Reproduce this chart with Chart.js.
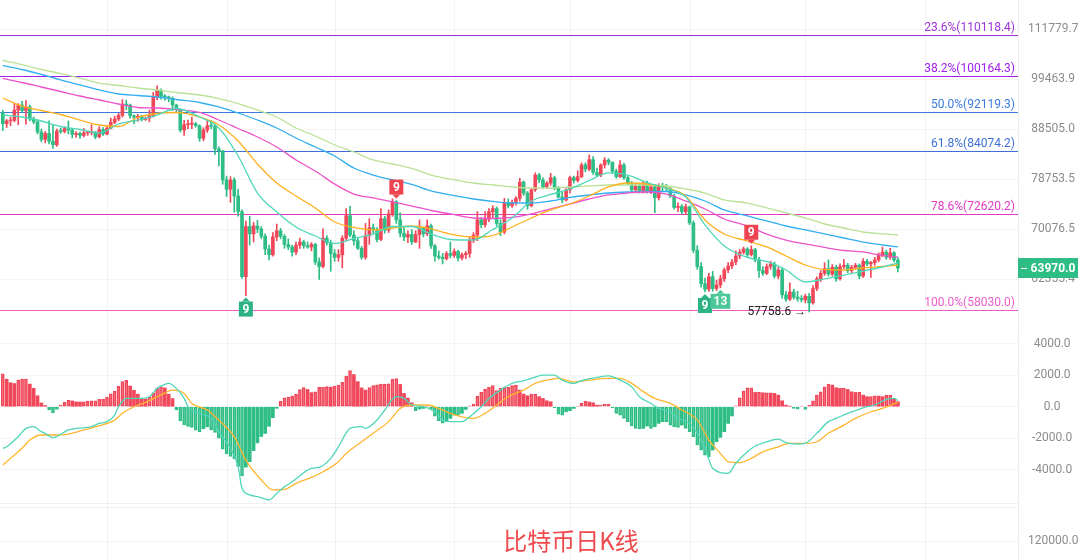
<!DOCTYPE html>
<html>
<head>
<meta charset="utf-8">
<title>比特币日K线</title>
<script src="https://cdn.jsdelivr.net/npm/chart.js@4.4.1/dist/chart.umd.min.js"></script>
<style>
  html, body { margin: 0; padding: 0; background: #fff; }
  #wrap { width: 1078px; height: 560px; position: relative; }
</style>
</head>
<body>
<div id="wrap"><canvas id="klineChart"></canvas></div>
<script>
// Daily candles, one row per day: [open, high, low, close]
const candles = [
  [92000, 92500, 88200, 89600], [89600, 90500, 88800, 90200], [90200, 91000, 89200, 90300], [90300, 94000, 90000, 92500],
  [92500, 93900, 89400, 93600], [93600, 94400, 92000, 92400], [92400, 94600, 89500, 93200], [93200, 93600, 90200, 90600],
  [90600, 91000, 89600, 90000], [90000, 90400, 87500, 87900], [87900, 88500, 85900, 86400], [86400, 88000, 85700, 87600],
  [87600, 90200, 85500, 86000], [86000, 89300, 84600, 85300], [85300, 88500, 85000, 88100], [88100, 88700, 87600, 88000],
  [88000, 89000, 87700, 88600], [88600, 90200, 87500, 88300], [88300, 88600, 86700, 87400], [87400, 88000, 86800, 87600],
  [87600, 87900, 86600, 87200], [87200, 88600, 86900, 87700], [87700, 88000, 87200, 87800], [87800, 89400, 87300, 87900],
  [87900, 88000, 86500, 86900], [86900, 89000, 86700, 88400], [88400, 88800, 87200, 87500], [87500, 88900, 87300, 88700],
  [88700, 90800, 88500, 89900], [89900, 91200, 89600, 90600], [90600, 91800, 90200, 91400], [91400, 94800, 91000, 93800],
  [93800, 94700, 92600, 93600], [93600, 93800, 90800, 91300], [91300, 91500, 89600, 91000], [91000, 91600, 90100, 91200],
  [91200, 91400, 90200, 90500], [90500, 91000, 90300, 90800], [90800, 92500, 90000, 91300], [91300, 96400, 91000, 95400],
  [95400, 97900, 94800, 96900], [96900, 97200, 94900, 95500], [95500, 95900, 94600, 95400], [95400, 95600, 94300, 95100],
  [95100, 95400, 92400, 93600], [93600, 93800, 92000, 92600], [92600, 92800, 87900, 88300], [88300, 90300, 87200, 89400],
  [89400, 90400, 88600, 89500], [89500, 91000, 88600, 89600], [89600, 89900, 88900, 89200], [89200, 89400, 86000, 86600],
  [86600, 88800, 86100, 88300], [88300, 90500, 87800, 89200], [89200, 90300, 88600, 89100], [89100, 89400, 83400, 84500],
  [84500, 84900, 81200, 84100], [84100, 84200, 77800, 78600], [78600, 79300, 75600, 76900], [76900, 79200, 74600, 78600],
  [78600, 79000, 72900, 75700], [75700, 76900, 72200, 73000], [73000, 73300, 62500, 62700], [62700, 71400, 60000, 70500],
  [70500, 72200, 67500, 69300], [69300, 71200, 68000, 70600], [70600, 71500, 69500, 70100], [70100, 70500, 68500, 68900],
  [68900, 69300, 66000, 66900], [66900, 67500, 65200, 66000], [66000, 69500, 65800, 68800], [68800, 70900, 68200, 69800],
  [69800, 70200, 68500, 68900], [68900, 69200, 67000, 67600], [67600, 68500, 66800, 67200], [67200, 67500, 65800, 66400],
  [66400, 68000, 66000, 67500], [67500, 68600, 67000, 68000], [68000, 68300, 67000, 67400], [67400, 68000, 67000, 67200],
  [67200, 67900, 66600, 67600], [67600, 67800, 64500, 64900], [64900, 65500, 62300, 64200], [64200, 70100, 64000, 68600],
  [68600, 69000, 67500, 67900], [67900, 68300, 63500, 66200], [66200, 66800, 65000, 65600], [65600, 66800, 65000, 66000],
  [66000, 69000, 64000, 68600], [68600, 73500, 68200, 72300], [72300, 73900, 68800, 69100], [69100, 69800, 67500, 68200],
  [68200, 68600, 66800, 67000], [67000, 67300, 65300, 65600], [65600, 71000, 65300, 69000], [69000, 71800, 67600, 70300],
  [70300, 70900, 69400, 70000], [70000, 70300, 68000, 68400], [68400, 73500, 68200, 71800], [71800, 72200, 69400, 69900],
  [69900, 73300, 69500, 72600], [72600, 75200, 72200, 74700], [74700, 74900, 71000, 71600], [71600, 72800, 68800, 69400],
  [69400, 70400, 68200, 68800], [68800, 69800, 67900, 69200], [69200, 70000, 67600, 68000], [68000, 69800, 67900, 69200],
  [69200, 71600, 67000, 70200], [70200, 70400, 68800, 69300], [69300, 71600, 69000, 70600], [70600, 70900, 67000, 67400],
  [67400, 67600, 65000, 65800], [65800, 66600, 65300, 65600], [65600, 66200, 64600, 65400], [65400, 66500, 65200, 66200],
  [66200, 68000, 65500, 65900], [65900, 66900, 65600, 66500], [66500, 66700, 65000, 65500], [65500, 66300, 65200, 66000],
  [66000, 66500, 65400, 66200], [66200, 68800, 65600, 68300], [68300, 69500, 67900, 69100], [69100, 73000, 68200, 71600],
  [71600, 72000, 70300, 70800], [70800, 73000, 70400, 71700], [71700, 73500, 71300, 73000], [73000, 74000, 71900, 73500],
  [73500, 73800, 70600, 71000], [71000, 71600, 69000, 69600], [69600, 75300, 69300, 74500], [74500, 75200, 73600, 74000],
  [74000, 75000, 73700, 74600], [74600, 75600, 74100, 75300], [75300, 78900, 74800, 78200], [78200, 78400, 75800, 76200],
  [76200, 76500, 73400, 74000], [74000, 77000, 73800, 76800], [76800, 79900, 76500, 79500], [79500, 79800, 78100, 78600],
  [78600, 79000, 77000, 77300], [77300, 78300, 77000, 78000], [78000, 79800, 77600, 79000], [79000, 79300, 76800, 77100],
  [77100, 77400, 75300, 75500], [75500, 76400, 74500, 75000], [75000, 77000, 74800, 76800], [76800, 79300, 76200, 79000],
  [79000, 79300, 78000, 78500], [78500, 80300, 78200, 79200], [79200, 81800, 79000, 81400], [81400, 81800, 80100, 80600],
  [80600, 83300, 80300, 82400], [82400, 83000, 79600, 80000], [80000, 80800, 79200, 79500], [79500, 81600, 79200, 81400],
  [81400, 82800, 80800, 82300], [82300, 82600, 81400, 81900], [81900, 82000, 79800, 80200], [80200, 80600, 78900, 79200],
  [79200, 82200, 79000, 81400], [81400, 81700, 78700, 79000], [79000, 79400, 77700, 78000], [78000, 78300, 76500, 76800],
  [76800, 77800, 76300, 77500], [77500, 77800, 76200, 76500], [76500, 78300, 76200, 78000], [78000, 78400, 76200, 76500],
  [76500, 77600, 76100, 77300], [77300, 77800, 72800, 75400], [75400, 77900, 75000, 77500], [77500, 78000, 76600, 77300],
  [77300, 77800, 76500, 77000], [77000, 77300, 75400, 75700], [75700, 76000, 73400, 73700], [73700, 74500, 73000, 73900],
  [73900, 74200, 72600, 73000], [73000, 74300, 72500, 73800], [73800, 74000, 70800, 71100], [71100, 71400, 66300, 66700],
  [66700, 67400, 63800, 64200], [64200, 64800, 61200, 61700], [61700, 62500, 60500, 60900], [60900, 63200, 60600, 62700],
  [62700, 63500, 60600, 61000], [61000, 62200, 60700, 61500], [61500, 62900, 61100, 62400], [62400, 64000, 62000, 63700],
  [63700, 64800, 63300, 64300], [64300, 65300, 63900, 64900], [64900, 66600, 64500, 65800], [65800, 66800, 65400, 66400],
  [66400, 67200, 66100, 66900], [66900, 67100, 65600, 66000], [66000, 67400, 65800, 66800], [66800, 67000, 64900, 65200],
  [65200, 65600, 62600, 63600], [63600, 64200, 62900, 63200], [63200, 64600, 63000, 64200], [64200, 65000, 63800, 64600],
  [64600, 64900, 62500, 62800], [62800, 64100, 62400, 63700], [63700, 64000, 59600, 60100], [60100, 60600, 59200, 59500],
  [59500, 61800, 59300, 60500], [60500, 60900, 59500, 59800], [59800, 60600, 59200, 59600], [59600, 60000, 59100, 59400],
  [59400, 60200, 59000, 59900], [59900, 60300, 57758.6, 59000], [59000, 61400, 58800, 61000], [61000, 62700, 60700, 62400],
  [62400, 63600, 62000, 63200], [63200, 64800, 62900, 63900], [63900, 65200, 62800, 63100], [63100, 64500, 62800, 64100],
  [64100, 64400, 62000, 62400], [62400, 64600, 62200, 64200], [64200, 65300, 63900, 64400], [64400, 64700, 63300, 63600],
  [63600, 64400, 63300, 64100], [64100, 64700, 63800, 64400], [64400, 64600, 62400, 62800], [62800, 65400, 62600, 65000],
  [65000, 65300, 64300, 64600], [64600, 65000, 62600, 64800], [64800, 65600, 64400, 65200], [65200, 66300, 64900, 66000],
  [66000, 67200, 65700, 66400], [66400, 66700, 65300, 65600], [65600, 67000, 65300, 66300], [66300, 66500, 64900, 65200],
  [65200, 65600, 63400, 63970]
];

// Moving averages, read at these candle indices
const maIdx = [0, 5, 10, 15, 20, 25, 30, 35, 40, 45, 51, 56, 61, 66, 71, 76, 81, 86, 91, 96, 101, 106, 111, 116,
  122, 127, 132, 137, 142, 147, 152, 157, 162, 167, 172, 177, 182, 187, 193, 198, 203, 208, 213, 218, 223, 228, 232];
const maTeal = [91450, 91030, 90180, 89030, 88410, 87690, 89550, 90390, 91450, 92850, 91030, 88720, 83110, 76230, 72930, 70420,
  68950, 67760, 68550, 69270, 70500, 70500, 69280, 68390, 68310, 70010, 71910, 74820, 75970, 76950, 78490, 79880, 79500, 78120,
  77040, 75520, 70750, 67360, 65580, 64970, 63690, 61940, 62370, 62950, 63540, 64140, 64740];
const maOrange = [95150, 93390, 92420, 91560, 90390, 89340, 89030, 90920, 91770, 91990, 91030, 89340, 86070, 81570, 78030, 75700,
  73610, 71240, 70340, 69930, 70250, 70580, 70090, 69270, 68790, 69030, 70420, 71910, 73270, 74300, 75700, 77310, 78030, 77850,
  77130, 75700, 71580, 69280, 68150, 67210, 65810, 64440, 63770, 63690, 63990, 64220, 64440];
const maPink = [99590, 98660, 97630, 96610, 95600, 94710, 93830, 93070, 92960, 92630, 91990, 90390, 88620, 86880, 84870, 82340,
  80250, 77850, 76050, 75350, 74650, 73950, 73180, 72590, 71910, 71830, 72000, 72590, 73440, 74300, 75170, 75880, 76230, 76410,
  76050, 74820, 73440, 71740, 70580, 69270, 68310, 67680, 67130, 66660, 66430, 65890, 65650];
const maBlue = [102650, 101700, 100520, 99240, 98090, 96950, 96050, 95710, 95380, 94820, 94160, 93180, 91880, 90390, 88720, 86670,
  84870, 83110, 80810, 79500, 78580, 77760, 76590, 75880, 75170, 74740, 74470, 74470, 74820, 75440, 75880, 76230, 76410, 76500,
  76500, 75880, 74820, 73270, 72250, 71410, 70580, 69930, 69280, 68630, 67990, 67520, 67210];
const maGreen = [103860, 102890, 101700, 100750, 99700, 98540, 97970, 97400, 96950, 96380, 95820, 95040, 93940, 92530, 91030, 88720,
  87080, 85270, 83890, 82340, 81570, 80720, 79500, 78760, 78030, 77670, 77310, 77130, 77130, 77310, 77490, 77670, 77670, 77670,
  77490, 76950, 76230, 75000, 74470, 73610, 72760, 71910, 70910, 70250, 69600, 69280, 69115];

// MACD histogram, one bar per candle
const macdHist = [
  2100, 1750, 1530, 1480, 1700, 1760, 1760, 1440, 1170, 700, 240, 80, -200, -400, -150, 100, 280, 410, 370, 310,
  300, 310, 360, 370, 380, 470, 490, 620, 830, 1000, 1300, 1600, 1680, 1320, 1050, 800, 520, 490, 620, 880,
  1180, 1270, 1200, 800, 520, -200, -900, -1150, -1250, -1320, -1500, -1600, -1400, -1280, -1470, -1640, -2000, -2700, -3000, -3170,
  -3320, -3800, -4400, -3850, -3500, -2800, -2300, -1900, -1700, -1250, -700, -100, 350, 570, 610, 680, 800, 1100, 1220, 1100,
  900, 950, 1230, 1230, 1290, 1250, 1320, 1380, 1550, 1950, 2300, 2050, 1600, 1200, 1060, 1220, 1340, 1400, 1440, 1440,
  1460, 1750, 1800, 1420, 850, 550, 250, -250, -150, -110, 40, -150, -600, -880, -1050, -900,
  -740, -530, -530, -420, -170, 60, 170, 680, 910, 1120, 1230, 1340, 1020, 1170, 1230, 1230, 1340, 1380, 1060, 805,
  700, 805, 805, 640, 530, 380, 320, -60, -470, -530, -320, -250, -110, 40, 210, 360, 300,
  250, 100, 100, 170, 170, -60, -420, -530, -740, -950, -1230, -1380, -1420, -1380, -1230, -1380, -1270, -1060, -950, -950,
  -1170, -1270, -1310, -1170, -1380, -1590, -1910, -2440, -2760, -3080, -3180, -2760, -2230, -1950, -1590, -1060, -590, 60, 570, 1000,
  1210, 1210, 910, 910, 890, 890, 870, 850, 740, 380, 100, 40, -110, -150, 40, -170, 100,
  380, 740, 950, 1270, 1440, 1380, 1210, 1170, 1170, 1100, 950, 910, 910, 740, 640, 640, 700, 680, 640, 740, 740, 530, 320
];
const difIdx = [0, 1, 4, 6, 8, 10, 11, 13, 17, 19, 23, 25, 27, 29, 30, 32, 34, 36, 38, 40, 42, 43, 45, 47, 48, 51, 54, 56, 59, 61,
  62, 64, 66, 67, 69, 71, 73, 75, 80, 82, 85, 87, 90, 93, 94, 97, 99, 102, 104, 106, 109, 112, 114, 116, 119, 121, 124, 126, 129, 132,
  135, 137, 140, 143, 145, 148, 150, 154, 157, 160, 163, 165, 168, 170, 173, 175, 178, 180, 182, 184, 188, 190, 193, 195, 198, 201,
  203, 206, 208, 211, 214, 216, 219, 221, 224, 226, 229, 231, 232];
const difVals = [-2650, -2550, -1910, -1380, -1270, -1590, -1690, -1970, -1480, -1380, -1270, -1060, -950, -530, 0, 530, 530, 530,
  640, 1170, 1430, 1490, 1170, 530, 0, -420, -740, -1590, -2650, -3820, -5200, -5620, -5730, -5800, -5940, -5520, -5100, -4780,
  -3920, -3860, -3290, -2550, -1380, -1270, -1380, -850, -210, 640, 530, 110, 0, -320, -850, -950, -950, -640, 0, 530, 1060, 1490,
  1660, 1810, 2020, 2020, 1700, 1490, 1660, 1870, 1960, 1700, 1270, 640, 210, -110, -320, -740, -1060, -1690, -2650, -3920,
  -4240, -3600, -2870, -2500, -2230, -2060, -2290, -2380, -2330, -1690, -950, -740, -420, -250, 0, 110, 470, 530, 380];
const deaIdx = [0, 2, 5, 7, 10, 12, 17, 21, 25, 29, 31, 34, 37, 41, 44, 47, 49, 53, 56, 60, 63, 67, 70, 73, 76, 80, 83, 87, 89, 93,
  96, 100, 103, 106, 110, 113, 116, 119, 122, 125, 128, 131, 135, 138, 142, 144, 148, 152, 157, 160, 163, 166, 169, 173, 176, 180,
  183, 186, 188, 191, 194, 197, 201, 204, 208, 211, 214, 218, 221, 225, 228, 232];
const deaVals = [-3710, -3290, -2650, -2120, -1800, -1800, -1740, -1480, -1210, -850, -420, 0, 280, 750, 1060, 850, 210, -210,
  -850, -1910, -3400, -4670, -5300, -5270, -4880, -4500, -4140, -3500, -2970, -2230, -1690, -950, -110, 110, 110, -110, -420, -640,
  -740, -420, 110, 640, 1060, 1490, 1740, 1810, 1590, 1700, 1810, 1810, 1490, 960, 530, 210, -210, -850, -2120, -2970, -3500, -3560,
  -3290, -2870, -2550, -2330, -2330, -2230, -1690, -1170, -740, -320, -110, 280];

// Axes, levels and marks
const priceTicks = [111779.7, 99463.9, 88505.0, 78753.5, 70076.5, 62355.4];
const macdTicks = [4000, 2000, 0, -2000, -4000];
const volTicks = [120000];
const monthGrid = [27, 58, 86, 117, 147, 178, 208, 239];
const fibLevels = [110118.4, 100164.3, 92119.3, 84074.2, 72620.2, 58030.0];
const fibNames = ['23.6%', '38.2%', '50.0%', '61.8%', '78.6%', '100.0%'];
const tdMarks = [
  { i: 63, text: '9', side: 'low' },
  { i: 102, text: '9', side: 'high' },
  { i: 182, text: '9', side: 'low' },
  { i: 186, text: '13', side: 'low' },
  { i: 194, text: '9', side: 'high' }
];
const lowMarkIdx = 209;

const UP = '#F0485A', DOWN = '#2EBD85';
const fibColors = ['#9B33D8', '#A020EE', '#3D7BE0', '#3F6FD6', '#E238C2', '#EE5CCB'];
const FONT = 'Roboto, "Noto Sans", sans-serif';

// histogram: solid when shrinking toward zero, pale when growing
const histStyle = macdHist.map((v, i) => {
  const prev = i ? macdHist[i - 1] : v;
  const grow = v >= 0 ? v >= prev : v <= prev;
  const base = v >= 0 ? UP : DOWN;
  return grow
    ? { fill: v >= 0 ? 'rgba(240,72,90,0.42)' : 'rgba(46,189,133,0.42)', line: base, w: 1 }
    : { fill: base, line: base, w: 0 };
});

function maSet(vals, color) {
  return {
    type: 'line', yAxisID: 'price', order: 0,
    data: maIdx.map((x, k) => ({ x, y: vals[k] })),
    borderColor: color, borderWidth: 1.3, pointRadius: 0,
    cubicInterpolationMode: 'monotone'
  };
}
function macdLine(idx, vals, color) {
  return {
    type: 'line', yAxisID: 'macd', order: 0,
    data: idx.map((x, k) => ({ x, y: vals[k] })),
    borderColor: color, borderWidth: 1.3, pointRadius: 0,
    cubicInterpolationMode: 'monotone'
  };
}
function rightAxis(extra, pad) {
  return Object.assign({
    position: 'right', stack: 'panes', offset: false,
    grid: { color: 'rgba(0,0,0,0.045)', drawTicks: false },
    border: { display: true, color: 'rgba(0,0,0,0.07)' },
    ticks: {
      color: '#8c8c8c', font: { family: FONT, size: 12 }, padding: pad,
      crossAlign: 'center', autoSkip: false, maxRotation: 0,
      callback: (v) => Number(v).toFixed(1)
    },
    // fixed axis width, no extra label padding so the panes fill the canvas
    afterFit: (s) => { s.width = 60; s.paddingTop = 0; s.paddingBottom = 0; }
  }, extra);
}

function drawTag(ctx, cx, tipY, text, color, above) {
  ctx.font = 'bold 12px ' + FONT;
  const w = Math.max(14, ctx.measureText(text).width + 6), h = 15, pt = 4;
  const top = above ? tipY - pt - h : tipY + pt;
  ctx.fillStyle = color;
  ctx.fillRect(cx - w / 2, top, w, h);
  ctx.beginPath();
  if (above) { ctx.moveTo(cx - 4, top + h); ctx.lineTo(cx + 4, top + h); }
  else { ctx.moveTo(cx - 4, top); ctx.lineTo(cx + 4, top); }
  ctx.lineTo(cx, tipY);
  ctx.closePath();
  ctx.fill();
  ctx.fillStyle = '#fff';
  ctx.textAlign = 'center';
  ctx.textBaseline = 'middle';
  ctx.fillText(text, cx, top + h / 2 + 0.5);
}

const overlay = {
  id: 'overlay',
  beforeDatasetsDraw(chart) {
    const { ctx, chartArea: a, scales } = chart;
    const xs = scales.x, ps = scales.price, ms = scales.macd;
    ctx.save();
    ctx.lineWidth = 1;
    ctx.strokeStyle = 'rgba(0,0,0,0.045)';
    monthGrid.forEach((i) => {
      const px = Math.round(xs.getPixelForValue(i)) + 0.5;
      if (px > a.right) return;
      ctx.beginPath(); ctx.moveTo(px, a.top); ctx.lineTo(px, a.bottom); ctx.stroke();
    });
    ctx.strokeStyle = 'rgba(0,0,0,0.06)';
    [ms.bottom - 2, ms.bottom + 2].forEach((y) => {
      ctx.beginPath(); ctx.moveTo(a.left, Math.round(y) + 0.5); ctx.lineTo(a.right, Math.round(y) + 0.5); ctx.stroke();
    });
    fibLevels.forEach((v, k) => {
      const py = Math.round(ps.getPixelForValue(v)) + 0.5;
      ctx.strokeStyle = fibColors[k];
      ctx.beginPath(); ctx.moveTo(a.left, py); ctx.lineTo(a.right, py); ctx.stroke();
    });
    ctx.restore();
  },
  afterDatasetsDraw(chart) {
    const { ctx, chartArea: a, scales } = chart;
    const xs = scales.x, ps = scales.price;
    ctx.save();
    ctx.font = '12px ' + FONT;
    ctx.textAlign = 'right';
    ctx.textBaseline = 'bottom';
    fibLevels.forEach((v, k) => {
      ctx.fillStyle = fibColors[k];
      ctx.fillText(fibNames[k] + '(' + v.toFixed(1) + ')', a.right - 3, ps.getPixelForValue(v) - 1);
    });
    tdMarks.forEach((m) => {
      const c = candles[m.i];
      const cx = xs.getPixelForValue(m.i);
      if (m.side === 'high') drawTag(ctx, cx, ps.getPixelForValue(c[1]) - 2, m.text, '#EE4452', true);
      else drawTag(ctx, cx, ps.getPixelForValue(c[2]) + 2, m.text, m.text === '13' ? '#4CC79A' : '#2BB383', false);
    });
    const low = candles[lowMarkIdx][2];
    ctx.font = '12px ' + FONT;
    ctx.fillStyle = '#222';
    ctx.textAlign = 'right';
    ctx.textBaseline = 'middle';
    ctx.fillText(low.toFixed(1) + ' \u2192', xs.getPixelForValue(lowMarkIdx) - 3, ps.getPixelForValue(low));
    ctx.restore();
  },
  afterDraw(chart) {
    const { ctx, scales } = chart;
    const ps = scales.price;
    const last = candles[candles.length - 1][3];
    const y = ps.getPixelForValue(last);
    ctx.save();
    ctx.fillStyle = DOWN;
    ctx.fillRect(ps.left, Math.round(y) - 10, ps.right - ps.left, 20);
    ctx.strokeStyle = '#fff';
    ctx.lineWidth = 1;
    ctx.beginPath(); ctx.moveTo(ps.left + 3, Math.round(y) + 0.5); ctx.lineTo(ps.left + 9, Math.round(y) + 0.5); ctx.stroke();
    ctx.fillStyle = '#fff';
    ctx.font = 'bold 12px ' + FONT;
    ctx.textAlign = 'center';
    ctx.textBaseline = 'middle';
    ctx.fillText(last.toFixed(1), ps.left + 35, y + 0.5);
    ctx.fillStyle = '#EF4B4E';
    ctx.font = '24px "Noto Sans CJK SC", sans-serif';
    ctx.fillText('比特币日K线', 571, 541);
    ctx.restore();
  }
};

const datasets = [
  maSet(maTeal, '#50D7B9'),
  maSet(maOrange, '#FFB01E'),
  maSet(maPink, '#EC54C8'),
  maSet(maBlue, '#33AEF0'),
  maSet(maGreen, '#B9E296'),
  macdLine(difIdx, difVals, '#4FD6B8'),
  macdLine(deaIdx, deaVals, '#FFB52E'),
  {
    type: 'bar', yAxisID: 'price', order: 1, grouped: false,
    data: candles.map((c, i) => ({ x: i, y: [c[0], c[3]] })),
    backgroundColor: candles.map((c) => (c[3] >= c[0] ? UP : DOWN)),
    barThickness: 3, minBarLength: 1, borderWidth: 0
  },
  {
    type: 'bar', yAxisID: 'price', order: 2, grouped: false,
    data: candles.map((c, i) => ({ x: i, y: [c[2], c[1]] })),
    backgroundColor: candles.map((c) => (c[3] >= c[0] ? UP : DOWN)),
    barThickness: 1, borderWidth: 0
  },
  {
    type: 'bar', yAxisID: 'macd', order: 3, grouped: false,
    data: macdHist.map((v, i) => ({ x: i, y: v })),
    backgroundColor: histStyle.map((s) => s.fill),
    borderColor: histStyle.map((s) => s.line),
    borderWidth: histStyle.map((s) => s.w),
    borderSkipped: false, barThickness: 3
  }
];

new Chart(document.getElementById('klineChart'), {
  type: 'bar',
  data: { datasets },
  plugins: [overlay],
  options: {
    responsive: true,
    maintainAspectRatio: false,
    animation: false,
    events: [],
    layout: { padding: 0, autoPadding: false },
    plugins: { legend: { display: false }, tooltip: { enabled: false }, title: { display: false } },
    scales: {
      x: { type: 'linear', display: false, offset: false, min: -0.726, max: 263.13, grid: { offset: false } },
      price: rightAxis({
        type: 'logarithmic', stackWeight: 335, min: 54726, max: 119610,
        afterBuildTicks: (s) => { s.ticks = priceTicks.map((value) => ({ value })); }
      }, 10),
      macd: rightAxis({
        type: 'linear', stackWeight: 170, min: -6260, max: 4570, beginAtZero: false,
        afterBuildTicks: (s) => { s.ticks = macdTicks.map((value) => ({ value })); }
      }, 14),
      vol: rightAxis({
        type: 'linear', stackWeight: 55, min: 0, max: 347800,
        afterBuildTicks: (s) => { s.ticks = volTicks.map((value) => ({ value })); }
      }, 10)
    }
  }
});
</script>
</body>
</html>
